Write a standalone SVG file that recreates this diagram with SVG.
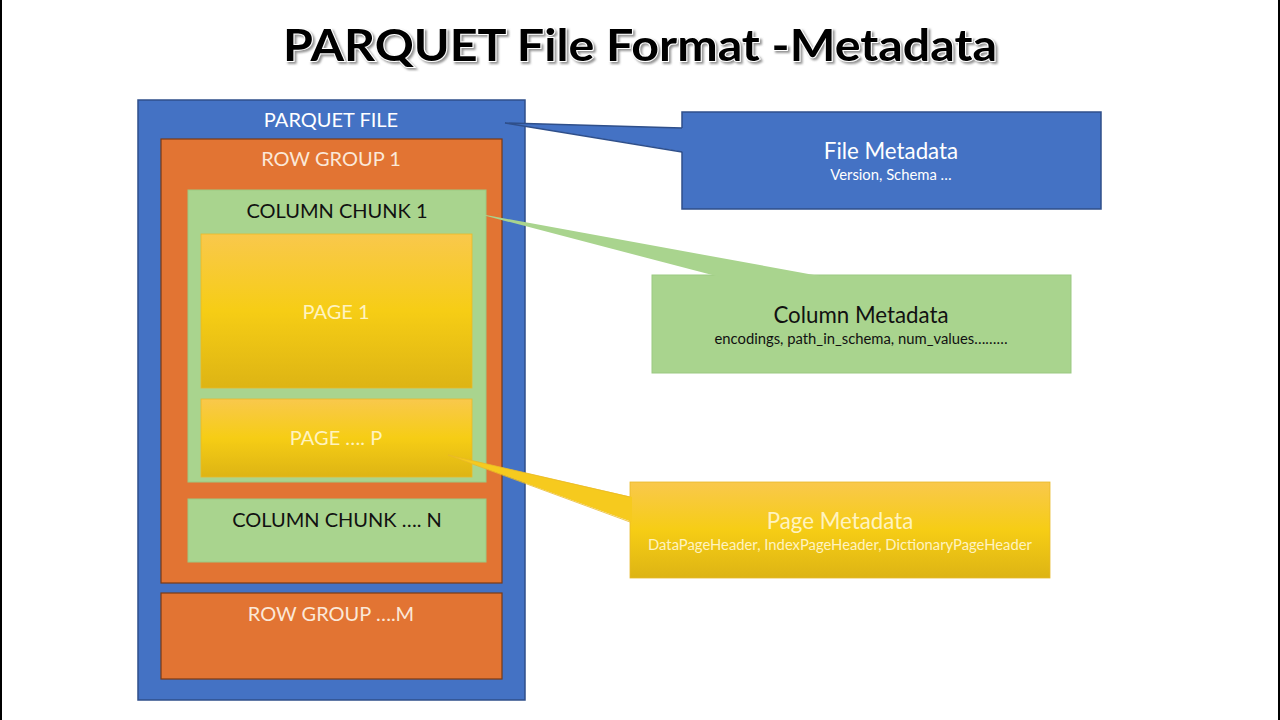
<svg xmlns="http://www.w3.org/2000/svg" width="1280" height="720" viewBox="0 0 1280 720">
<defs>
<linearGradient id="yel" x1="0" y1="0" x2="0" y2="1">
<stop offset="0" stop-color="#F9C84C"/>
<stop offset="0.5" stop-color="#F6CD15"/>
<stop offset="1" stop-color="#DDB414"/>
</linearGradient>
<filter id="sh" x="-5%" y="-30%" width="110%" height="160%">
<feDropShadow dx="2" dy="2" stdDeviation="1.2" flood-color="#888" flood-opacity="0.9"/>
</filter>
</defs>
<style>
text{font-family:Lato,"Open Sans","Liberation Sans",sans-serif;text-anchor:middle}
.blue{fill:#4472C4;stroke:#2F4F8A;stroke-width:1.5}
.org{fill:#E27433;stroke:#7A3A14;stroke-width:1.2}
.grn{fill:#A9D48E;stroke:#9BC982;stroke-width:1}
.yel{fill:url(#yel);stroke:#E8B92A;stroke-width:0.8}
.lbl{font-size:20px}
.w{fill:#FFFFFF}
.cream{fill:#FBE8D8}
.dk{fill:#111}
.ylab{fill:#FFF3C0}
.sub{font-size:14.8px}
.ttl{font-size:22.3px}
</style>
<rect x="0" y="0" width="1280" height="720" fill="#fff"/>
<rect x="0" y="0" width="2" height="720" fill="#000"/>
<rect x="1278" y="0" width="2" height="720" fill="#000"/>
<g id="title">
<text x="640" y="61" font-size="44" font-weight="bold" textLength="714" lengthAdjust="spacingAndGlyphs" fill="#000" stroke="#fff" stroke-width="2" paint-order="stroke" filter="url(#sh)">PARQUET File Format -Metadata</text>
</g>
<g id="parquet-file">
<rect class="blue" x="138" y="100" width="387" height="600"/>
<text class="lbl w" x="331" y="127">PARQUET FILE</text>
</g>
<g id="row-group-1">
<rect class="org" x="161" y="139" width="341" height="444"/>
<text class="lbl cream" x="331" y="166">ROW GROUP 1</text>
</g>
<g id="column-chunk-1">
<rect class="grn" x="188" y="190" width="298" height="292"/>
<text class="lbl dk" x="337" y="218">COLUMN CHUNK 1</text>
</g>
<g id="page-1">
<rect class="yel" x="201" y="234" width="271" height="154"/>
<text class="lbl ylab" x="336" y="319">PAGE 1</text>
</g>
<g id="page-p">
<rect class="yel" x="201" y="399" width="271" height="78"/>
<text class="lbl ylab" x="336" y="445">PAGE …. P</text>
</g>
<g id="column-chunk-n">
<rect class="grn" x="188" y="499" width="298" height="63"/>
<text class="lbl dk" x="337" y="527">COLUMN CHUNK …. N</text>
</g>
<g id="row-group-m">
<rect class="org" x="161" y="593" width="341" height="86"/>
<text class="lbl cream" x="331" y="621">ROW GROUP ….M</text>
</g>
<g id="file-metadata">
<rect class="blue" x="682" y="112" width="419" height="97"/>
<text class="ttl w" x="891" y="159">File Metadata</text>
<text class="sub w" x="891" y="180">Version, Schema …</text>
</g>
<g id="column-metadata">
<rect class="grn" x="652" y="275" width="419" height="98"/>
<text class="ttl dk" x="861" y="323">Column Metadata</text>
<text class="sub dk" x="861" y="344">encodings, path_in_schema, num_values………</text>
</g>
<g id="page-metadata">
<rect class="yel" x="630" y="482" width="420" height="96"/>
<text class="ttl ylab" x="840" y="529">Page Metadata</text>
<text class="sub ylab" x="840" y="550">DataPageHeader, IndexPageHeader, DictionaryPageHeader</text>
</g>
<g id="connectors">
<polygon points="505,123 684,128 684,152" fill="#4472C4"/>
<polyline points="682,128 505,123 682,152" fill="none" stroke="#2F4F8A" stroke-width="1.5"/>
<polygon points="475,213 720,277 825,277" fill="#A9D48E"/>
<polygon points="448,455 632,497 632,522" fill="#F6CA1E"/>
<polyline points="630,497 448,455 630,522" fill="none" stroke="#E8B92A" stroke-width="0.8"/>
</g>
</svg>
